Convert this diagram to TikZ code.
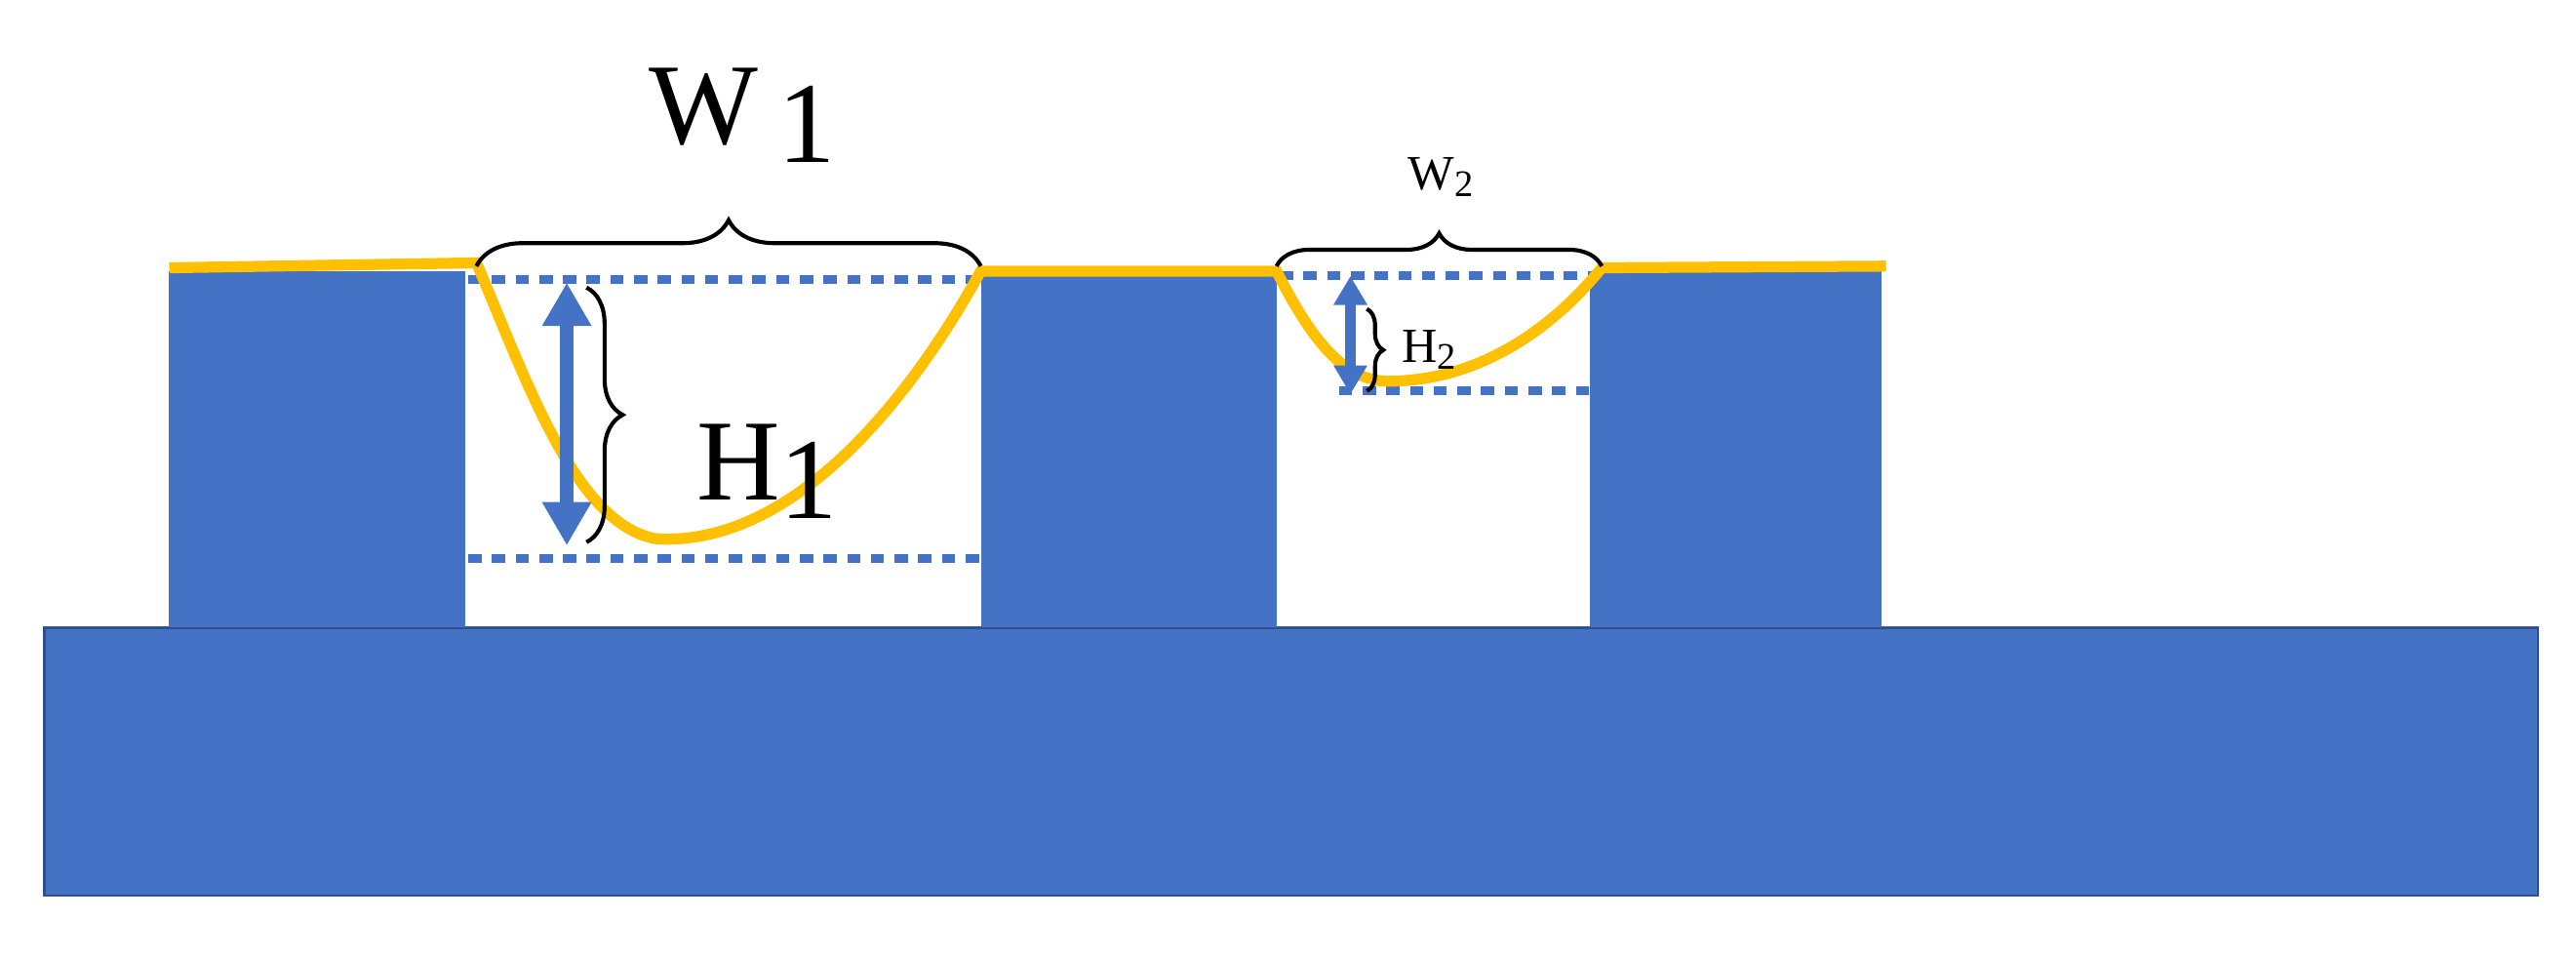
\documentclass[tikz,border=0pt]{standalone}
\usepackage{fontspec}
\setmainfont{Liberation Serif}
\usetikzlibrary{decorations.pathreplacing,arrows.meta}
\definecolor{bl}{HTML}{4472C4}
\definecolor{yl}{HTML}{FFC000}
\begin{document}
\begin{tikzpicture}[x=0.01cm,y=-0.01cm,
  dotl/.style={bl,line width=1.5pt,dash pattern=on 2.3pt off 1.8pt},
  yline/.style={yl,line width=1.9pt},
  brc/.style={decorate,line width=0.7pt,black},
  dar/.style={bl,line width=2.4pt,{Triangle[width=8pt,length=7.5pt]}-{Triangle[width=8pt,length=7.5pt]}}]
\useasboundingbox (0,0) rectangle (1568,583);
\fill[bl,draw=bl!70!black,line width=0.4pt] (27,382) rectangle (1545,545);
\fill[bl] (103,165) rectangle (283,382);
\fill[bl] (597,165) rectangle (777,382);
\fill[bl] (968,165) rectangle (1145,382);
\draw[dotl] (285,170) -- (597,170);
\draw[dotl] (285,340) -- (597,340);
\draw[dotl] (779,168) -- (975,168);
\draw[dotl] (815,238) -- (968,238);
\draw[yline] (103,163) -- (290,160) .. controls (320,230) and (350,320) .. (400,328)
  .. controls (480,332) and (550,250) .. (597,165) -- (777,165)
  .. controls (795,200) and (815,232) .. (845,232)
  .. controls (900,232) and (945,200) .. (975,163) -- (1148,162);
\coordinate (a1) at (345,172); \coordinate (a2) at (345,332);
\draw[dar] (a1) -- (a2);
\coordinate (b1) at (822,168); \coordinate (b2) at (822,240);
\draw[bl,line width=1.8pt,{Triangle[width=5.5pt,length=5pt]}-{Triangle[width=5.5pt,length=5pt]}] (b1) -- (b2);
\draw[brc,decoration={brace,amplitude=0.28cm}] (290,162) -- (597,162);
\draw[brc,decoration={brace,amplitude=0.2cm}] (777,162) -- (975,162);
\draw[brc,decoration={brace,amplitude=0.22cm}] (357,175) -- (357,330);
\draw[brc,decoration={brace,amplitude=0.1cm}] (832,188) -- (832,238);
\node (W1) at (452,70) {\fontsize{20pt}{22pt}\selectfont W\,\raisebox{-0.35ex}{1}};
\node (H1) at (467,287) {\fontsize{20pt}{22pt}\selectfont H\raisebox{-0.35ex}{1}};
\node (W2) at (877,108) {\fontsize{8.5pt}{10pt}\selectfont W\raisebox{-0.3ex}{\fontsize{6.5pt}{7pt}\selectfont 2}};
\node (H2) at (870,213) {\fontsize{8.5pt}{10pt}\selectfont H\raisebox{-0.3ex}{\fontsize{6.5pt}{7pt}\selectfont 2}};
\end{tikzpicture}
\end{document}
